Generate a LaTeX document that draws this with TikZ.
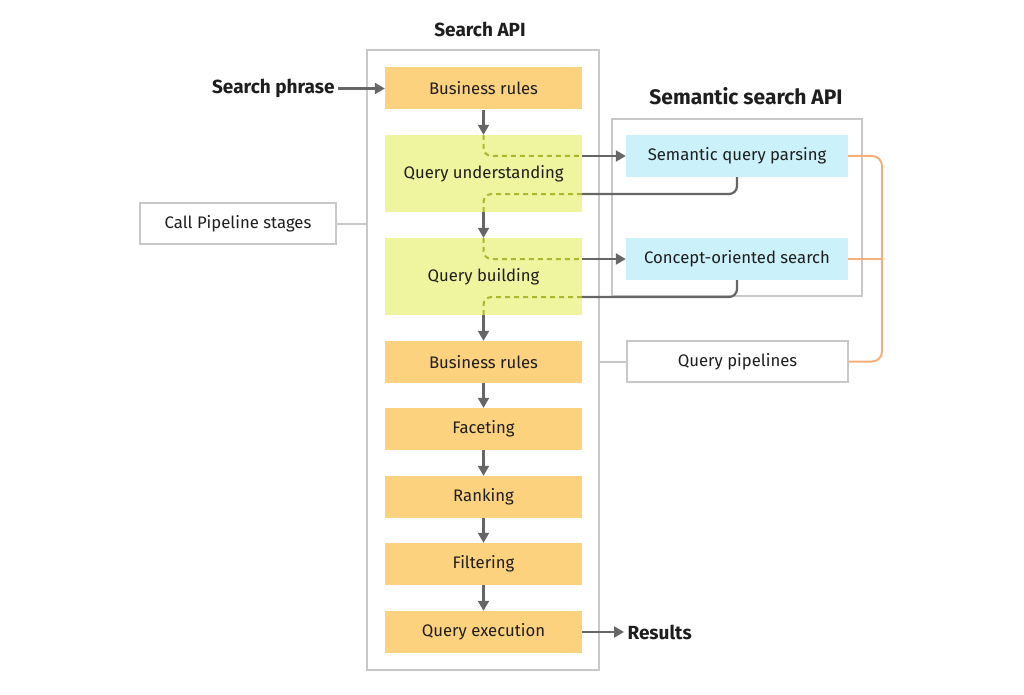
\documentclass[tikz,border=0pt]{standalone}
\usepackage{fontspec}
\setmainfont{Fira Sans}
\usepackage{tikz}
\usetikzlibrary{arrows.meta}
\definecolor{stageorange}{HTML}{FDD27E}
\definecolor{stagegreen}{HTML}{EFF59F}
\definecolor{stagecyan}{HTML}{CBF1FA}
\definecolor{pipeorange}{HTML}{F7AE78}
\definecolor{boxgray}{HTML}{C8C8C8}
\definecolor{flowgray}{HTML}{666666}
\definecolor{dashgreen}{HTML}{A9B82E}
\definecolor{textdark}{HTML}{1E1E1E}

\begin{document}
\begin{tikzpicture}[x=1pt, y=-1pt, font=\fontsize{16.7}{20}\selectfont, text=textdark,
	stage/.style={fill=stageorange, minimum width=197pt, minimum height=42pt, inner sep=0pt},
	bigstage/.style={stage, fill=stagegreen, minimum height=77pt},
	semstage/.style={stage, fill=stagecyan, minimum width=222pt},
	frame/.style={draw=boxgray, line width=1.2pt, inner sep=0pt},
	label/.style={frame, fill=white, minimum height=41pt},
	title/.style={font=\fontsize{19}{22}\selectfont\bfseries},
	flow/.style={draw=flowgray, line width=2.2pt},
	step arrow/.style={flow, -{Triangle[length=10pt,width=11pt]}},
	dash flow/.style={draw=dashgreen, line width=2pt, dash pattern=on 5pt off 4pt, rounded corners=8pt},
	pipe/.style={draw=pipeorange, line width=2pt, rounded corners=10pt}]
	\useasboundingbox (0,0) rectangle (1024,695);
	% outer frames
	\node[frame, minimum width=232pt, minimum height=620pt] (api) at (483,360) {};
	\node[title] (api-title) at (480,29) {Search API};
	\node[frame, minimum width=250pt, minimum height=177pt] (sem) at (737,207.5) {};
	\node[title, font=\fontsize{21}{24}\selectfont\bfseries] (sem-title) at (746,96) {Semantic search API};
	% pipeline stages
	\node[stage] (br1) at (483.5,88.5) {Business rules};
	\node[bigstage] (qu) at (483.5,173.5) {Query understanding};
	\node[bigstage] (qb) at (483.5,276.5) {Query building};
	\node[stage] (br2) at (483.5,362) {Business rules};
	\node[stage] (fac) at (483.5,429) {Faceting};
	\node[stage] (rank) at (483.5,497) {Ranking};
	\node[stage] (filt) at (483.5,564) {Filtering};
	\node[stage] (exec) at (483.5,632) {Query execution};
	\node[semstage] (sqp) at (737,156) {Semantic query parsing};
	\node[semstage] (cos) at (737,259) {Concept-oriented search};
	% side labels
	\node[label, minimum width=196pt] (cps) at (238,223.5) {Call Pipeline stages};
	\node[label, minimum width=221pt] (qp) at (737.5,361.5) {Query pipelines};
	\node[title, anchor=east] (phrase) at (338,88.5) {Search phrase};
	\node[title, anchor=west] (res) at (624,632) {Results};
	% arrows down the pipeline
	\draw[step arrow] (phrase) -- (br1);
	\draw[step arrow] (br1) -- (qu);
	\draw[step arrow] (qu) -- (qb);
	\draw[step arrow] (qb) -- (br2);
	\draw[step arrow] (br2) -- (fac);
	\draw[step arrow] (fac) -- (rank);
	\draw[step arrow] (rank) -- (filt);
	\draw[step arrow] (filt) -- (exec);
	\draw[step arrow] (exec) -- (res);
	% calls into the semantic search API
	\coordinate (qu-in) at (qu.east |- sqp);
	\coordinate (qu-back) at (582,194);
	\coordinate (qb-in) at (qb.east |- cos);
	\coordinate (qb-back) at (582,297);
	\draw[dash flow] (qu.north) |- (qu-in);
	\draw[step arrow] (qu-in) -- (sqp.west);
	\draw[flow, rounded corners=8pt] (sqp.south) |- (qu-back);
	\draw[dash flow] (qu-back) -| (qu.south);
	\draw[dash flow] (qb.north) |- (qb-in);
	\draw[step arrow] (qb-in) -- (cos.west);
	\draw[flow, rounded corners=8pt] (cos.south) |- (qb-back);
	\draw[dash flow] (qb-back) -| (qb.south);
	% label connectors
	\draw[draw=boxgray, line width=2pt] (cps.east) -- (cps.east -| api.west);
	\draw[draw=boxgray, line width=2pt] (qp.west) -- (qp.west -| api.east);
	\coordinate (bend) at (882,361.5);
	\draw[pipe] (sqp.east) -| (bend) -- (qp.east);
	\draw[pipe] (cos.east) -- (cos.east -| bend);
\end{tikzpicture}
\end{document}
